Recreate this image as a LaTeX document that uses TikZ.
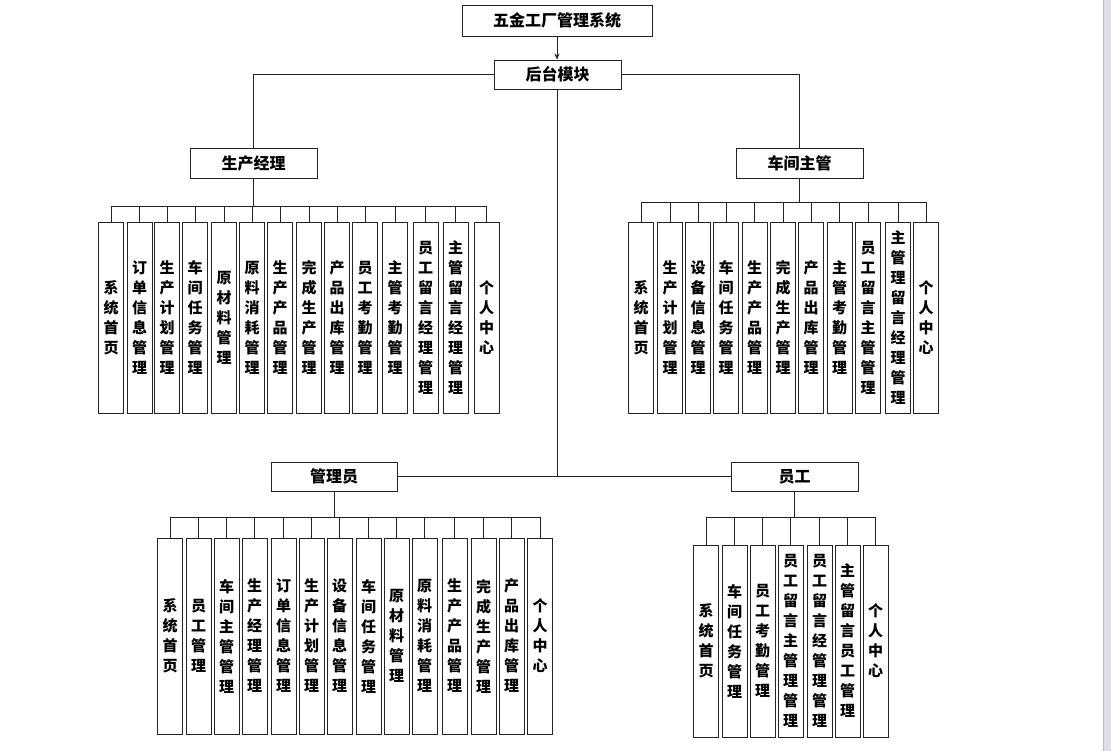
\documentclass[tikz,border=0pt]{standalone}
\usepackage{fontspec}
\newfontfamily\cjk{Noto Sans CJK SC}
\usetikzlibrary{arrows.meta}
\definecolor{stripfill}{RGB}{220,223,232}
\definecolor{stripline}{RGB}{190,190,196}
\definecolor{ink}{RGB}{35,35,35}
\begin{document}
\begin{tikzpicture}[x=1pt,y=-1pt,line width=0.9pt,
  box/.style={draw=ink,inner sep=0pt,font=\cjk\bfseries\fontsize{16}{18}\selectfont},
  leaf/.style={draw=ink,inner sep=0pt,align=center,font=\cjk\bfseries\fontsize{15}{20}\selectfont},
  conn/.style={draw=ink}]
\useasboundingbox (0,0) rectangle (1111,751);
\fill[white] (0,0) rectangle (1111,751);
\fill[stripfill] (1103,0) rectangle (1111,751);
\draw[stripline,line width=1pt] (1103.5,0) -- (1103.5,751);

% top level
\node[box,minimum width=190pt,minimum height=31pt] (sys) at (557,20.5) {五金工厂管理系统};
\node[box,minimum width=127pt,minimum height=29pt] (hub) at (557.5,74.5) {后台模块};
\node[box,minimum width=127pt,minimum height=30pt] (pm) at (253.5,163) {生产经理};
\node[box,minimum width=127pt,minimum height=30pt] (wm) at (799.5,163) {车间主管};
\node[box,minimum width=126pt,minimum height=29pt] (ad) at (334,476.5) {管理员};
\node[box,minimum width=127pt,minimum height=29pt] (em) at (794.5,476.5) {员工};

\draw[conn,-{Stealth[length=6pt,width=5pt]}] (sys.south) -- (hub.north -| sys.south);
\draw[conn] (hub.west) -| (pm.north);
\draw[conn] (hub.east) -| (wm.north);
\coordinate (mid) at (557,476.5);
\draw[conn] (hub.south -| mid) -- (mid);
\draw[conn] (ad.east) -- (em.west);

% bars
\coordinate (bar1) at (0,206);
\coordinate (bar2) at (0,202);
\coordinate (bar3) at (0,517);
\coordinate (bar4) at (0,517);

% group 1: 生产经理
\foreach \x/\txt [count=\i] in {
 111/{系\\统\\首\\页},
 139.5/{订\\单\\信\\息\\管\\理},
 167/{生\\产\\计\\划\\管\\理},
 195/{车\\间\\任\\务\\管\\理},
 224/{原\\材\\料\\管\\理},
 252/{原\\料\\消\\耗\\管\\理},
 280/{生\\产\\产\\品\\管\\理},
 309/{完\\成\\生\\产\\管\\理},
 337/{产\\品\\出\\库\\管\\理},
 365/{员\\工\\考\\勤\\管\\理},
 395/{主\\管\\考\\勤\\管\\理},
 425.5/{员\\工\\留\\言\\经\\理\\管\\理},
 455.5/{主\\管\\留\\言\\经\\理\\管\\理},
 486.5/{个\\人\\中\\心}}{
  \node[leaf,minimum width=25pt,minimum height=191pt] (a\i) at (\x,317.5) {\txt};
  \draw[conn] (a\i.north) -- (a\i.north |- bar1);
}
\draw[conn] (a1.north |- bar1) -- (a14.north |- bar1);
\draw[conn] (pm.south) -- (pm.south |- bar1);

% group 2: 车间主管
\foreach \x/\txt [count=\i] in {
 641/{系\\统\\首\\页},
 670/{生\\产\\计\\划\\管\\理},
 698/{设\\备\\信\\息\\管\\理},
 726/{车\\间\\任\\务\\管\\理},
 754.5/{生\\产\\产\\品\\管\\理},
 783/{完\\成\\生\\产\\管\\理},
 811/{产\\品\\出\\库\\管\\理},
 839.5/{主\\管\\考\\勤\\管\\理},
 868/{员\\工\\留\\言\\主\\管\\管\\理},
 898/{主\\管\\理\\留\\言\\经\\理\\管\\理},
 926/{个\\人\\中\\心}}{
  \node[leaf,minimum width=25pt,minimum height=191pt] (b\i) at (\x,317.5) {\txt};
  \draw[conn] (b\i.north) -- (b\i.north |- bar2);
}
\draw[conn] (b1.north |- bar2) -- (b11.north |- bar2);
\draw[conn] (wm.south) -- (wm.south |- bar2);

% group 3: 管理员
\foreach \x/\txt [count=\i] in {
 170/{系\\统\\首\\页},
 198.5/{员\\工\\管\\理},
 226.5/{车\\间\\主\\管\\管\\理},
 254.5/{生\\产\\经\\理\\管\\理},
 283.5/{订\\单\\信\\息\\管\\理},
 311.5/{生\\产\\计\\划\\管\\理},
 339.5/{设\\备\\信\\息\\管\\理},
 368.5/{车\\间\\任\\务\\管\\理},
 396.5/{原\\材\\料\\管\\理},
 424.5/{原\\料\\消\\耗\\管\\理},
 454.5/{生\\产\\产\\品\\管\\理},
 483.5/{完\\成\\生\\产\\管\\理},
 511.5/{产\\品\\出\\库\\管\\理},
 540/{个\\人\\中\\心}}{
  \node[leaf,minimum width=25pt,minimum height=196pt] (c\i) at (\x,636) {\txt};
  \draw[conn] (c\i.north) -- (c\i.north |- bar3);
}
\draw[conn] (c1.north |- bar3) -- (c14.north |- bar3);
\draw[conn] (ad.south) -- (ad.south |- bar3);

% group 4: 员工
\foreach \x/\txt [count=\i] in {
 706/{系\\统\\首\\页},
 734.5/{车\\间\\任\\务\\管\\理},
 762.5/{员\\工\\考\\勤\\管\\理},
 790.5/{员\\工\\留\\言\\主\\管\\理\\管\\理},
 819.5/{员\\工\\留\\言\\经\\管\\理\\管\\理},
 847.5/{主\\管\\留\\言\\员\\工\\管\\理},
 875.5/{个\\人\\中\\心}}{
  \node[leaf,minimum width=25pt,minimum height=192pt] (d\i) at (\x,641) {\txt};
  \draw[conn] (d\i.north) -- (d\i.north |- bar4);
}
\draw[conn] (d1.north |- bar4) -- (d7.north |- bar4);
\draw[conn] (em.south) -- (em.south |- bar4);
\end{tikzpicture}
\end{document}
